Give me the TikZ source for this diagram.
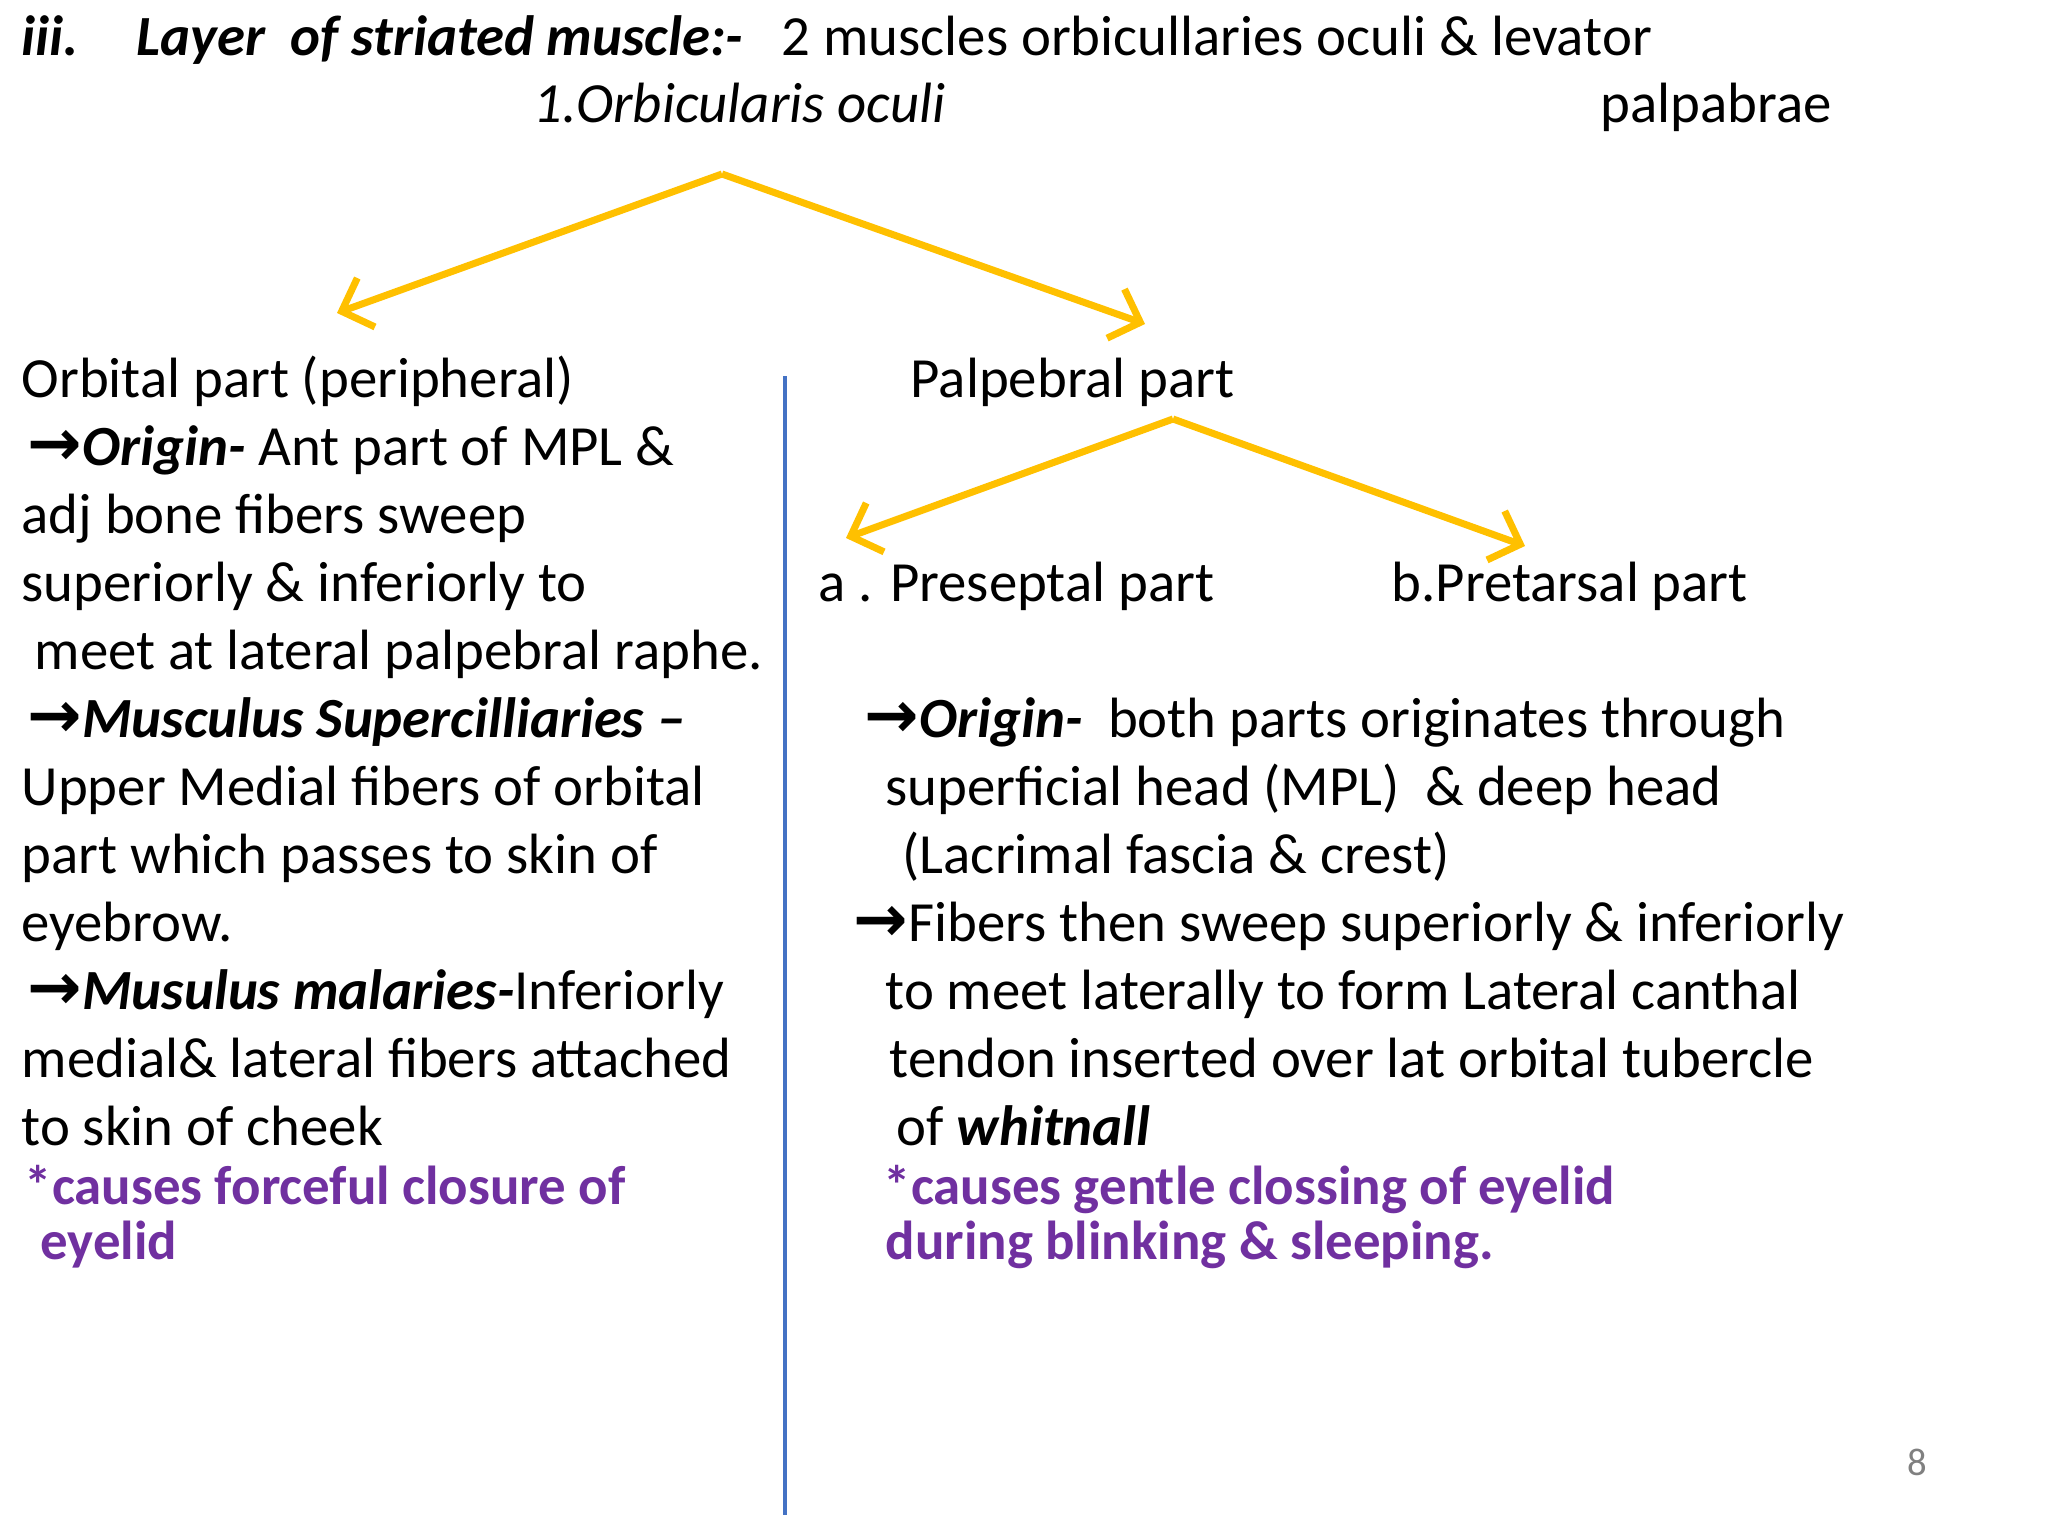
\documentclass[tikz,border=0pt]{standalone}
\usepackage{fontspec}
\setmainfont{Carlito}
\newfontfamily\symfont{DejaVu Sans}
\usetikzlibrary{arrows.meta}
\definecolor{branch}{HTML}{FFC000}
\definecolor{note}{HTML}{7030A0}
\definecolor{divider}{HTML}{4472C4}
\newcommand{\goesto}{{\symfont\bfseries\fontsize{18.5}{19}\selectfont →}}
\tikzset{
  txt/.style={anchor=base west, inner sep=0pt, font=\fontsize{16.15}{19}\selectfont},
  cmt/.style={txt, text=note, font=\fontsize{15.6}{19}\selectfont\bfseries},
  fork/.style={branch, line width=2pt, -{Straight Barb[length=2.6mm, width=5.2mm]}},
}

\begin{document}
\begin{tikzpicture}[x=0.01cm, y=-0.01cm]
    \useasboundingbox (0,0) rectangle (2048,1536);

    \node[txt] (num)   at (21,55)   {\textbf{\textit{iii.}}};
    \node[txt] (layer) at (136,55)  {\textbf{\textit{Layer\ \ of striated muscle:-}}};
    \node[txt] (two)   at (781,55)  {2 muscles orbicullaries oculi \& levator};
    \node[txt] (oo)    at (533,122) {\textit{1.Orbicularis oculi}};
    \node[txt] (lp)    at (1600,122) {palpabrae};

    \coordinate (top1) at (722,174);
    \coordinate (tipL) at (337,313);
    \coordinate (tipR) at (1145,324);
    \draw[fork] (top1) -- (tipL);
    \draw[fork] (top1) -- (tipR);

    \node[txt] (l1)  at (21,397)  {Orbital part (peripheral)};
    \node[txt] (l2)  at (27,465)  {\goesto\textbf{\textit{Origin-}} Ant part of MPL \&};
    \node[txt] (l3)  at (21,533)  {adj bone fibers sweep};
    \node[txt] (l4)  at (21,601)  {superiorly \& inferiorly to};
    \node[txt] (l5)  at (34,669)  {meet at lateral palpebral raphe.};
    \node[txt] (l6)  at (27,737)  {\goesto\textbf{\textit{Musculus Supercilliaries –}}};
    \node[txt] (l7)  at (21,805)  {Upper Medial fibers of orbital};
    \node[txt] (l8)  at (21,873)  {part which passes to skin of};
    \node[txt] (l9)  at (21,941)  {eyebrow.};
    \node[txt] (l10) at (27,1009) {\goesto\textbf{\textit{Musulus malaries-}}Inferiorly};
    \node[txt] (l11) at (21,1077) {medial\& lateral fibers attached};
    \node[txt] (l12) at (21,1145) {to skin of cheek};
    \node[cmt] (n1)  at (24,1204) {*causes\ forceful\ closure\ of};
    \node[cmt] (n2)  at (40,1259) {eyelid};

    \coordinate (divT) at (785,376);
    \coordinate (divB) at (785,1515);
    \draw[divider, line width=0.9pt] (divT) -- (divB);

    \node[txt] (pp)  at (910,397)  {Palpebral part};
    \coordinate (top2) at (1173,419);
    \coordinate (tipA) at (846,538);
    \coordinate (tipB) at (1525,546);
    \draw[fork] (top2) -- (tipA);
    \draw[fork] (top2) -- (tipB);
    \node[txt] (pre) at (818,601)  {a . Preseptal part};
    \node[txt] (pta) at (1391,601) {b.Pretarsal part};

    \node[txt] (r1) at (864,737)  {\goesto\textbf{\textit{Origin-}}\ \ both parts originates through};
    \node[txt] (r2) at (885,805)  {superficial head (MPL)\ \ \& deep head};
    \node[txt] (r3) at (902,873)  {(Lacrimal fascia \& crest)};
    \node[txt] (r4) at (853,941)  {\goesto Fibers then sweep superiorly \& inferiorly};
    \node[txt] (r5) at (885,1009) {to meet laterally to form Lateral canthal};
    \node[txt] (r6) at (889,1077) {tendon inserted over lat orbital tubercle};
    \node[txt] (r7) at (896,1145) {of \textbf{\textit{whitnall}}};
    \node[cmt] (n3) at (883,1204) {*causes\ gentle\ clossing\ of\ eyelid};
    \node[cmt] (n4) at (885,1259) {during\ blinking\ \&\ sleeping.};

    \node[txt, text=gray, font=\fontsize{11}{13}\selectfont] (page) at (1907,1475) {8};
\end{tikzpicture}
\end{document}
